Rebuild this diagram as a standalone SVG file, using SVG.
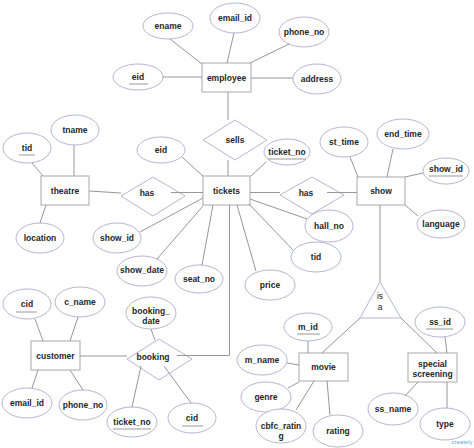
<svg xmlns="http://www.w3.org/2000/svg" width="474" height="448" viewBox="0 0 474 448">
<style>
.e{fill:#fff;stroke:#b6b6d4;stroke-width:1}
.r{fill:#fff;stroke:#a8a8a8;stroke-width:1}
.d{fill:#fff;stroke:#b6b6d4;stroke-width:1}
.l{stroke:#979797;stroke-width:1;fill:none}
.u{stroke:#999;stroke-width:1}
text{font-family:"Liberation Sans",Arial,sans-serif;font-size:8.5px;font-weight:bold;fill:#262626;text-anchor:middle}
text.n{font-weight:normal}
text.w{font-size:6px;font-weight:normal;fill:#62a6dc}
</style>
<rect width="474" height="448" fill="#fff"/>
<g id="employee"><rect class="r" x="202" y="63" width="49" height="29"/><text x="226.5" y="80.5">employee</text></g>
<g id="ename"><ellipse class="e" cx="168" cy="26" rx="25" ry="13"/><text x="168" y="29">ename</text></g>
<g id="emp_email_id"><ellipse class="e" cx="235" cy="18" rx="25" ry="15"/><text x="235" y="21">email_id</text></g>
<g id="emp_phone_no"><ellipse class="e" cx="304" cy="32" rx="25" ry="15"/><text x="304" y="35">phone_no</text></g>
<g id="emp_eid"><ellipse class="e" cx="138" cy="77" rx="25" ry="13"/><text x="138" y="80">eid</text><line class="u" x1="129" y1="84" x2="148" y2="84"/></g>
<g id="address"><ellipse class="e" cx="317" cy="79" rx="24" ry="15"/><text x="317" y="82">address</text></g>
<g id="sells"><polygon class="d" points="235,120 267,140 235,160 203,140"/><text x="235" y="143">sells</text></g>
<g id="tickets"><rect class="r" x="203" y="176" width="47" height="29"/><text x="226.5" y="193.5">tickets</text></g>
<g id="tk_eid"><ellipse class="e" cx="161" cy="150" rx="24" ry="13"/><text x="161" y="153">eid</text></g>
<g id="tk_ticket_no"><ellipse class="e" cx="287" cy="152" rx="23" ry="13"/><text x="287" y="155">ticket_no</text><line class="u" x1="268" y1="159" x2="306" y2="159"/></g>
<g id="theatre"><rect class="r" x="41" y="176" width="48" height="29"/><text x="65" y="193.5">theatre</text></g>
<g id="th_tid"><ellipse class="e" cx="27" cy="148" rx="24" ry="15"/><text x="27" y="151">tid</text><line class="u" x1="19" y1="155" x2="35" y2="155"/></g>
<g id="tname"><ellipse class="e" cx="75" cy="130" rx="24" ry="15"/><text x="75" y="133">tname</text></g>
<g id="location"><ellipse class="e" cx="40" cy="238" rx="24" ry="15"/><text x="40" y="241">location</text></g>
<g id="has_theatre"><polygon class="d" points="153,177 185,196 153,216 121,196"/><text x="147" y="196">has</text></g>
<g id="has_show"><polygon class="d" points="312,177 344,195 312,214 280,195"/><text x="306" y="196">has</text></g>
<g id="show"><rect class="r" x="357" y="177" width="48" height="28"/><text x="381" y="194">show</text></g>
<g id="st_time"><ellipse class="e" cx="344" cy="142" rx="24" ry="15"/><text x="344" y="145">st_time</text></g>
<g id="end_time"><ellipse class="e" cx="403" cy="134" rx="26" ry="15"/><text x="403" y="137">end_time</text></g>
<g id="sh_show_id"><ellipse class="e" cx="446" cy="171" rx="23" ry="13"/><text x="446" y="172">show_id</text><line class="u" x1="429" y1="176" x2="463" y2="176"/></g>
<g id="language"><ellipse class="e" cx="441" cy="224" rx="24" ry="14"/><text x="441" y="227">language</text></g>
<g id="hall_no"><ellipse class="e" cx="329" cy="226" rx="24" ry="16"/><text x="329" y="229">hall_no</text></g>
<g id="tk_tid"><ellipse class="e" cx="316" cy="257" rx="25" ry="15"/><text x="316" y="260">tid</text></g>
<g id="price"><ellipse class="e" cx="270" cy="285" rx="25" ry="15"/><text x="270" y="288">price</text></g>
<g id="seat_no"><ellipse class="e" cx="199" cy="279" rx="24" ry="14"/><text x="199" y="282">seat_no</text></g>
<g id="show_date"><ellipse class="e" cx="142" cy="271" rx="25" ry="15"/><text x="142" y="273">show_date</text></g>
<g id="tk_show_id"><ellipse class="e" cx="117" cy="238" rx="24" ry="15"/><text x="117" y="241">show_id</text></g>
<g id="customer"><rect class="r" x="31" y="341" width="49" height="29"/><text x="55.5" y="358.5">customer</text></g>
<g id="cu_cid"><ellipse class="e" cx="27" cy="304" rx="24" ry="15"/><text x="27" y="307">cid</text><line class="u" x1="16" y1="312" x2="37" y2="312"/></g>
<g id="c_name"><ellipse class="e" cx="80" cy="302" rx="25" ry="15"/><text x="80" y="305">c_name</text></g>
<g id="cu_email_id"><ellipse class="e" cx="27" cy="403" rx="25" ry="15"/><text x="27" y="406">email_id</text></g>
<g id="cu_phone_no"><ellipse class="e" cx="83" cy="405" rx="24" ry="15"/><text x="83" y="408">phone_no</text></g>
<g id="booking"><polygon class="d" points="159,339 192,359 159,380 127,359"/><text x="153" y="359.5">booking</text></g>
<g id="booking_date"><ellipse class="e" cx="151" cy="313" rx="25" ry="16"/><text x="151" y="313.5">booking_</text><text x="151" y="323.5">date</text></g>
<g id="bk_ticket_no"><ellipse class="e" cx="132" cy="422" rx="25" ry="15"/><text x="132" y="425">ticket_no</text><line class="u" x1="113" y1="429" x2="151" y2="429"/></g>
<g id="bk_cid"><ellipse class="e" cx="192" cy="418" rx="24" ry="15"/><text x="192" y="421">cid</text><line class="u" x1="182" y1="426" x2="203" y2="426"/></g>
<g id="isa"><polygon class="d" points="380,282 401,318 360,318"/><text class="n" x="380" y="299">is</text><text class="n" x="380" y="310">a</text></g>
<g id="movie"><rect class="r" x="299" y="353" width="49" height="28"/><text x="323.5" y="370">movie</text></g>
<g id="special_screening"><rect class="r" x="408" y="353" width="49" height="29"/><text x="432.5" y="367">special</text><text x="432.5" y="377">screening</text></g>
<g id="m_id"><ellipse class="e" cx="308" cy="327" rx="24" ry="14"/><text x="308" y="330">m_id</text><line class="u" x1="297" y1="334" x2="320" y2="334"/></g>
<g id="m_name"><ellipse class="e" cx="262" cy="360" rx="25" ry="15"/><text x="262" y="363">m_name</text></g>
<g id="genre"><ellipse class="e" cx="266" cy="397" rx="25" ry="15"/><text x="266" y="400">genre</text></g>
<g id="cbfc_rating"><ellipse class="e" cx="281" cy="426" rx="25" ry="17"/><text x="281" y="429">cbfc_ratin</text><text x="281" y="439">g</text></g>
<g id="rating"><ellipse class="e" cx="338" cy="431" rx="25" ry="16"/><text x="338" y="434">rating</text></g>
<g id="ss_id"><ellipse class="e" cx="440" cy="322" rx="25" ry="15"/><text x="440" y="325">ss_id</text><line class="u" x1="426" y1="329" x2="453" y2="329"/></g>
<g id="ss_name"><ellipse class="e" cx="393" cy="409" rx="25" ry="16"/><text x="393" y="412">ss_name</text></g>
<g id="type"><ellipse class="e" cx="445" cy="424" rx="25" ry="16"/><text x="445" y="427">type</text></g>
<g id="connectors">
<line class="l" x1="170" y1="39" x2="202" y2="64"/>
<line class="l" x1="234" y1="33" x2="227" y2="63"/>
<line class="l" x1="289" y1="44" x2="250" y2="63"/>
<line class="l" x1="163" y1="77" x2="202" y2="77"/>
<line class="l" x1="251" y1="78" x2="293" y2="78"/>
<line class="l" x1="228" y1="92" x2="228" y2="120"/>
<line class="l" x1="228" y1="160" x2="228" y2="176"/>
<line class="l" x1="182" y1="157" x2="203" y2="176"/>
<line class="l" x1="251" y1="176" x2="266" y2="162"/>
<line class="l" x1="171" y1="192.5" x2="203" y2="192.5"/>
<line class="l" x1="89" y1="191" x2="121" y2="193"/>
<line class="l" x1="250" y1="192.5" x2="280" y2="192.5"/>
<line class="l" x1="327" y1="192.5" x2="357" y2="192.5"/>
<line class="l" x1="250" y1="199" x2="307" y2="219"/>
<line class="l" x1="249" y1="204" x2="293" y2="250"/>
<line class="l" x1="237" y1="205" x2="256" y2="271"/>
<line class="l" x1="213" y1="205" x2="202" y2="265"/>
<line class="l" x1="203" y1="206" x2="157" y2="259"/>
<line class="l" x1="203" y1="198" x2="140" y2="232"/>
<polyline class="l" points="229.5,205 229.5,355.5 177,355.5"/>
<line class="l" x1="32" y1="163" x2="43" y2="176"/>
<line class="l" x1="74" y1="145" x2="74" y2="176"/>
<line class="l" x1="46" y1="205" x2="40" y2="223"/>
<line class="l" x1="350" y1="157" x2="358" y2="177"/>
<line class="l" x1="393" y1="149" x2="387" y2="177"/>
<line class="l" x1="405" y1="177" x2="423" y2="173"/>
<line class="l" x1="405" y1="205" x2="418" y2="216"/>
<line class="l" x1="380" y1="205" x2="380" y2="282"/>
<line class="l" x1="360" y1="318" x2="322" y2="353"/>
<line class="l" x1="401" y1="318" x2="437" y2="353"/>
<line class="l" x1="35" y1="319" x2="43" y2="341"/>
<line class="l" x1="78" y1="317" x2="70" y2="341"/>
<line class="l" x1="38" y1="370" x2="32" y2="388"/>
<line class="l" x1="70" y1="370" x2="83" y2="390"/>
<line class="l" x1="80" y1="356" x2="127" y2="356"/>
<line class="l" x1="151" y1="329" x2="155" y2="340"/>
<line class="l" x1="141" y1="366" x2="132" y2="407"/>
<line class="l" x1="164" y1="366" x2="191" y2="403"/>
<line class="l" x1="308" y1="341" x2="308" y2="353"/>
<line class="l" x1="287" y1="363" x2="299" y2="365"/>
<line class="l" x1="288" y1="388" x2="299" y2="382"/>
<line class="l" x1="314" y1="381" x2="296" y2="410"/>
<line class="l" x1="327" y1="381" x2="330" y2="415"/>
<line class="l" x1="445" y1="337" x2="447" y2="353"/>
<line class="l" x1="418" y1="382" x2="405" y2="396"/>
<line class="l" x1="447" y1="382" x2="447" y2="408"/>
</g>
<text class="w" x="462" y="444">creately</text>
</svg>
